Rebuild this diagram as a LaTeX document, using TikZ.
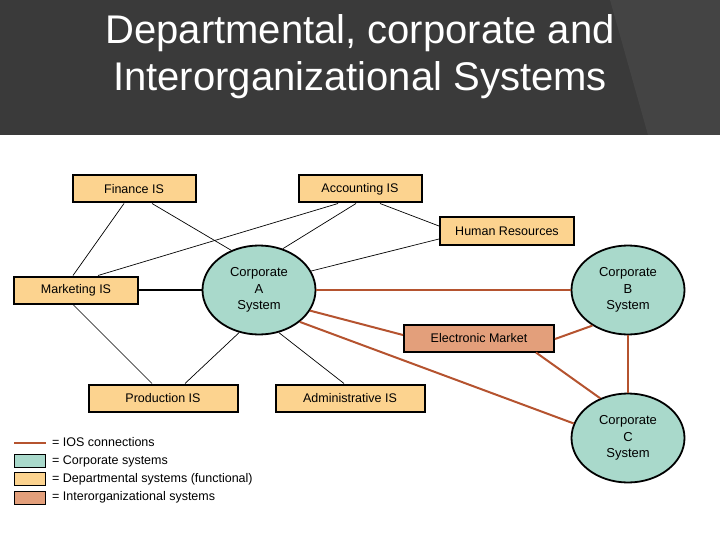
\documentclass[tikz,border=0pt]{standalone}
\usepackage{fontspec}
\setmainfont{Liberation Sans}
\usetikzlibrary{shapes.geometric}
\definecolor{deptfill}{HTML}{FCD38F}
\definecolor{corpfill}{HTML}{A9D9CB}
\definecolor{iosfill}{HTML}{E39F7B}
\definecolor{iosline}{HTML}{B5532F}
\definecolor{titlebg}{HTML}{3A3A3A}
\definecolor{titlelight}{HTML}{444444}
\tikzset{
    dept/.style={draw, line width=2pt, fill=deptfill, minimum height=27pt, inner sep=0pt, font=\fontsize{12.5}{13}\selectfont},
    corp/.style={ellipse, draw, line width=1.8pt, fill=corpfill, minimum width=113pt, minimum height=89pt, inner sep=0pt, align=center, font=\fontsize{13}{16.5}\selectfont},
    ios/.style={draw, line width=2pt, fill=iosfill, minimum height=27pt, minimum width=150pt, inner sep=0pt, font=\fontsize{12.5}{13}\selectfont},
    link/.style={draw, line width=0.7pt},
    ioslink/.style={draw, iosline, line width=2pt},
    legend/.style={anchor=west, font=\fontsize{12.5}{13}\selectfont, inner sep=0pt}
}
\begin{document}
\begin{tikzpicture}[x=1pt,y=-1pt]
        \useasboundingbox (0,0) rectangle (720,540);
        % Title bar
        \fill[titlebg] (0,0) rectangle (720,135);
        \fill[titlelight] (610,0) -- (720,0) -- (720,135) -- (648,135) -- cycle;
        \node[white, font=\fontsize{40}{47}\selectfont, align=center] (title) at (360,57)
            {Departmental, corporate and\\Interorganizational Systems};
    
        % Departmental systems
        \node[dept, minimum width=123pt] (fin) at (134,189) {Finance IS};
        \node[dept, minimum width=123pt] (acc) at (360,189) {Accounting IS};
        \node[dept, minimum width=134pt] (hr) at (507,231) {Human Resources};
        \node[dept, minimum width=124pt] (mkt) at (76,290) {Marketing IS};
        \node[dept, minimum width=149pt] (prod) at (163,398) {Production IS};
        \node[dept, minimum width=149pt] (adm) at (350,398) {Administrative IS};
    
        % Corporate systems
        \node[corp] (corpA) at (259,290) {Corporate\\A\\System};
        \node[corp] (corpB) at (628,290) {Corporate\\B\\System};
        \node[corp] (corpC) at (628,438) {Corporate\\C\\System};
        \node[ios] (em) at (479,338) {Electronic Market};
    
        % Internal links
        \draw[link] ([xshift=-10pt]fin.south) -- ([xshift=-3pt]mkt.north);
        \draw[link] ([xshift=18pt]fin.south) -- (corpA.125);
        \draw[link] ([xshift=-22pt]acc.south) -- ([xshift=22pt]mkt.north);
        \draw[link] ([xshift=-4pt]acc.south) -- (corpA.60);
        \draw[link] ([xshift=20pt]acc.south) -- ([yshift=5pt]hr.west);
        \draw[link] ([yshift=-8pt]hr.west) -- (corpA.20);
        \draw[link, line width=1.5pt] (mkt.east) -- (corpA.west);
        \draw[link] ([xshift=-3pt]mkt.south) -- ([xshift=-11pt]prod.north);
        \draw[link] ([xshift=22pt]prod.north) -- (corpA.245);
        \draw[link] (corpA.295) -- ([xshift=-6pt]adm.north);
    
        % IOS connections
        \draw[ioslink] (corpA.east) -- (corpB.west);
        \draw[ioslink] (corpA.-22) -- ([yshift=3pt]em.west);
        \draw[ioslink] (corpA.-38) -- (corpC.165);
        \draw[ioslink] ([yshift=-1pt]em.east) -- (corpB.-135);
        \draw[ioslink] ([xshift=57pt]em.south) -- (corpC.125);
        \draw[ioslink] (corpB.south) -- (corpC.north);
    
        % Legend
        \draw[ioslink, line width=2.5pt] (14,443) coordinate (lgA) -- (46,443) coordinate (lgB);
        \node[draw, line width=1.8pt, fill=corpfill, minimum width=31pt, minimum height=13pt, inner sep=0pt] (lgcorp) at (30,461) {};
        \node[draw, line width=1.8pt, fill=deptfill, minimum width=31pt, minimum height=13pt, inner sep=0pt] (lgdept) at (30,479) {};
        \node[draw, line width=1.8pt, fill=iosfill, minimum width=31pt, minimum height=13pt, inner sep=0pt] (lgios) at (30,498) {};
        \node[legend] (tA) at (52,442) {= IOS connections};
        \node[legend] (tB) at (52,461) {= Corporate systems};
        \node[legend] (tC) at (52,479) {= Departmental systems (functional)};
        \node[legend] (tD) at (52,497) {= Interorganizational systems};
    \end{tikzpicture}
\end{document}
